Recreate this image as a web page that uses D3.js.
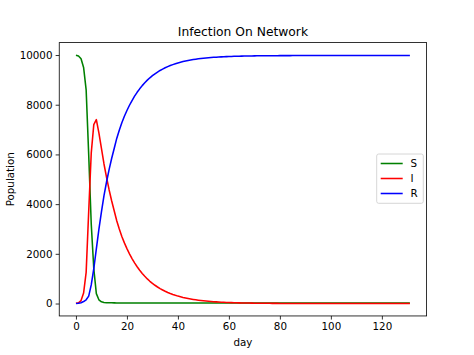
<!DOCTYPE html>
<html>
<head>
<meta charset="utf-8">
<script src="https://cdn.jsdelivr.net/npm/d3@7/dist/d3.min.js"></script>
<style>
html,body{margin:0;padding:0;background:#fff;}
svg{display:block;font-family:"DejaVu Sans",sans-serif;}
</style>
</head>
<body>
<svg id="chart" width="474" height="355"></svg>
<script>
// Data: index = day (0..131)
const seriesNames = ["S", "I", "R"];
const xTicks = [0, 20, 40, 60, 80, 100, 120];
const yTicks = [0, 2000, 4000, 6000, 8000, 10000];

const S = [
  9990,9960,9850,9500,8600,6000,3200,1400,400,150,
  70,45,35,30,28,26,25,24,23,22,
  22,21,21,21,21,21,21,21,21,21,
  21,21,21,21,21,21,21,21,21,21,
  21,20,20,20,20,20,20,20,20,20,
  20,20,20,20,20,20,20,20,20,20,
  20,20,20,20,20,20,20,20,20,20,
  20,20,20,20,20,20,20,20,20,20,
  20,20,20,20,20,20,20,20,20,20,
  20,20,20,20,20,20,20,20,20,20,
  20,20,20,20,20,20,20,20,20,20,
  20,20,20,20,20,20,20,20,20,20,
  20,20,20,20,20,20,20,20,20,20,
  20,20
];
const I = [
  10,30,120,420,1250,3700,6050,7200,7400,6870,
  6240,5615,5075,4580,4135,3735,3330,3000,2700,2440,
  2210,2000,1810,1635,1480,1340,1210,1095,990,895,
  810,735,665,600,545,492,445,403,365,330,
  298,270,244,221,200,181,164,148,134,121,
  110,99,90,81,73,66,60,54,49,44,
  40,36,33,30,27,24,22,20,18,16,
  15,13,12,11,10,9,8,7,7,6,
  5,5,4,4,4,3,3,3,2,2,
  2,2,2,1,1,1,1,1,1,1,
  1,0,0,0,0,0,0,0,0,0,
  0,0,0,0,0,0,0,0,0,0,
  0,0,0,0,0,0,0,0,0,0,
  0,0
];
const R = [
  0,10,30,80,150,300,750,1400,2200,2980,
  3690,4340,4890,5390,5837,6239,6645,6976,7277,7538,
  7768,7979,8169,8344,8499,8639,8769,8884,8989,9084,
  9169,9244,9314,9379,9434,9487,9534,9576,9614,9649,
  9681,9710,9736,9759,9780,9799,9816,9832,9846,9859,
  9870,9881,9890,9899,9907,9914,9920,9926,9931,9936,
  9940,9944,9947,9950,9953,9956,9958,9960,9962,9964,
  9965,9967,9968,9969,9970,9971,9972,9973,9973,9974,
  9975,9975,9976,9976,9976,9977,9977,9977,9978,9978,
  9978,9978,9978,9979,9979,9979,9979,9979,9979,9979,
  9979,9980,9980,9980,9980,9980,9980,9980,9980,9980,
  9980,9980,9980,9980,9980,9980,9980,9980,9980,9980,
  9980,9980,9980,9980,9980,9980,9980,9980,9980,9980,
  9980,9980
];
const seriesColors = ["#008000", "#ff0000", "#0000ff"];

const W = 474, H = 355;
const L = 59.25, Rt = 426.6, T = 42.6, B = 315.95;

const svg = d3.select("#chart");
const n = S.length;
const x = d3.scaleLinear().domain([-(n - 1) * 0.05, (n - 1) * 1.05]).range([L, Rt]);
const y = d3.scaleLinear().domain([-500, 10500]).range([B, T]);

const fs = 10.3;

// lines
const line = d3.line().x((d, i) => x(i)).y(d => y(d));
const data = [S, I, R];
const g = svg.append("g");
data.forEach((arr, k) => {
  g.append("path").datum(arr)
    .attr("fill", "none")
    .attr("stroke", seriesColors[k])
    .attr("stroke-width", 1.55)
    .attr("stroke-linejoin", "round")
    .attr("d", line);
});

// axes
const xAxis = d3.axisBottom(x).tickValues(xTicks).tickSize(3.6).tickPadding(3.2).tickFormat(d3.format("d"));
const yAxis = d3.axisLeft(y).tickValues(yTicks).tickSize(3.6).tickPadding(3.2).tickFormat(d3.format("d"));
const gx = svg.append("g").attr("transform", `translate(0,${B})`).call(xAxis);
const gy = svg.append("g").attr("transform", `translate(${L},0)`).call(yAxis);
[gx, gy].forEach(a => {
  a.select(".domain").remove();
  a.selectAll("line").attr("stroke", "#000").attr("stroke-width", 0.8);
  a.selectAll("text").attr("font-size", fs).attr("fill", "#000").attr("font-family", "DejaVu Sans");
});

// frame
svg.append("rect").attr("x", L).attr("y", T).attr("width", Rt - L).attr("height", B - T)
  .attr("fill", "none").attr("stroke", "#000").attr("stroke-width", 0.8);

// labels
svg.append("text").attr("x", (L + Rt) / 2).attr("y", 36.3).attr("text-anchor", "middle")
  .attr("font-size", 12.3).attr("fill", "#000").text("Infection On Network");
svg.append("text").attr("x", (L + Rt) / 2).attr("y", 346).attr("text-anchor", "middle")
  .attr("font-size", fs).attr("fill", "#000").text("day");
svg.append("text").attr("transform", `translate(13.5,${(T + B) / 2}) rotate(-90)`)
  .attr("text-anchor", "middle").attr("font-size", fs).attr("fill", "#000").text("Population");

// legend
const lg = svg.append("g");
lg.append("rect").attr("x", 376.7).attr("y", 154).attr("width", 46.6).attr("height", 49.3)
  .attr("rx", 2).attr("fill", "#fff").attr("fill-opacity", 0.8).attr("stroke", "#ccc").attr("stroke-width", 0.8);
seriesNames.forEach((s, k) => {
  const yy = 163.5 + k * 15;
  lg.append("line").attr("x1", 380.7).attr("x2", 402.7).attr("y1", yy).attr("y2", yy)
    .attr("stroke", seriesColors[k]).attr("stroke-width", 1.55);
  lg.append("text").attr("x", 410.5).attr("y", yy + 3.7).attr("font-size", fs).attr("fill", "#000").text(s);
});
</script>
</body>
</html>
